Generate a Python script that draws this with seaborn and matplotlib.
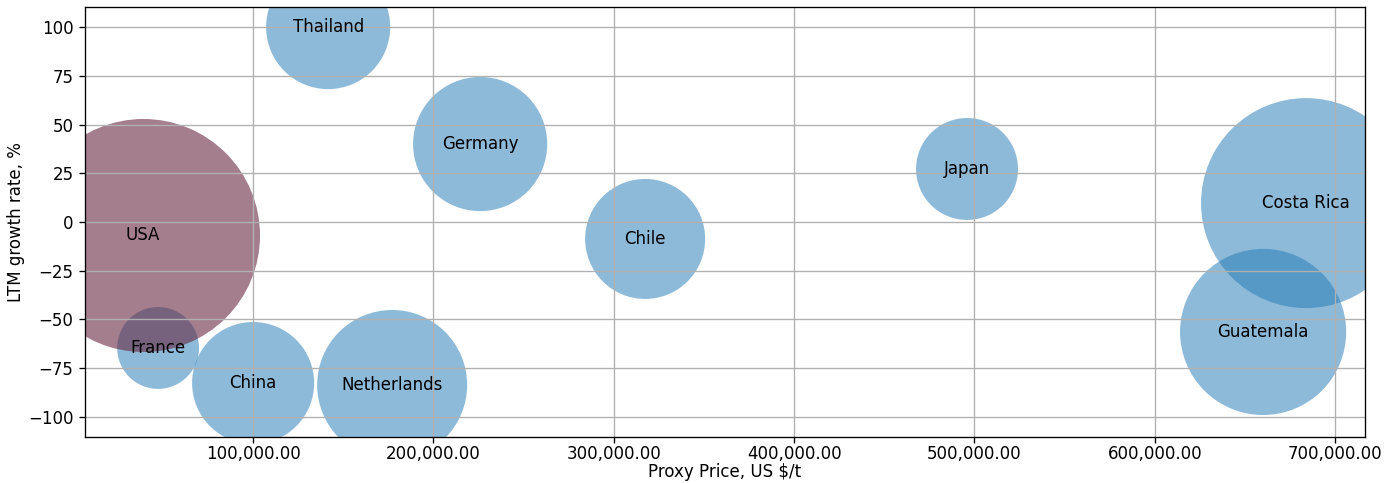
import numpy as np
import pandas as pd
import seaborn as sns
import matplotlib.pyplot as plt
from matplotlib.ticker import StrMethodFormatter

countries = ['USA', 'France', 'China', 'Thailand', 'Germany', 'Netherlands',
             'Chile', 'Japan', 'Costa Rica', 'Guatemala']
price = [39000, 47300, 100000, 141600, 225900, 177100, 317400, 495900, 683900, 660100]
growth = [-6.7, -64.6, -82.6, 100.0, 40.0, -83.6, -8.7, 27.2, 9.7, -56.4]
# bubble size (relative volume)
volume = [54300, 6700, 14900, 15400, 18000, 22500, 14400, 10400, 44100, 27600]

df = pd.DataFrame({'country': countries, 'price': price,
                   'growth': growth, 'volume': volume})
df['is_usa'] = df['country'] == 'USA'

dpi = 120
# volume is in px^2 of the bubble diameter; convert to points^2
scale = (72 / dpi) ** 2
vmax = max(volume)

fig, ax = plt.subplots(figsize=(1399 / dpi, 483 / dpi), dpi=dpi)
others = df[~df['is_usa']]
usa = df[df['is_usa']]
sns.scatterplot(data=others, x='price', y='growth', size='volume',
                sizes=(0, vmax * scale), size_norm=(0, vmax),
                color='#1f77b4', alpha=0.5, linewidth=0, legend=False, ax=ax)
sns.scatterplot(data=usa, x='price', y='growth', size='volume',
                sizes=(0, vmax * scale), size_norm=(0, vmax),
                color='#692841', alpha=0.6, linewidth=0, legend=False, ax=ax)

for _, r in df.iterrows():
    ax.text(r['price'], r['growth'], r['country'], ha='center', va='center', fontsize=10)

ax.set_xlim(6800, 716600)
ax.set_ylim(-110.3, 110.3)
ax.set_xticks([100000, 200000, 300000, 400000, 500000, 600000, 700000])
ax.set_yticks([-100, -75, -50, -25, 0, 25, 50, 75, 100])
ax.xaxis.set_major_formatter(StrMethodFormatter('{x:,.2f}'))
ax.tick_params(axis='x', pad=1.5)
ax.grid(True)
ax.set_xlabel('Proxy Price, US $/t', labelpad=0)
ax.set_ylabel('LTM growth rate, %', labelpad=2)

plt.subplots_adjust(left=0.0608, right=0.9757, top=0.9855, bottom=0.0952)
plt.savefig('out.png', dpi=dpi)
